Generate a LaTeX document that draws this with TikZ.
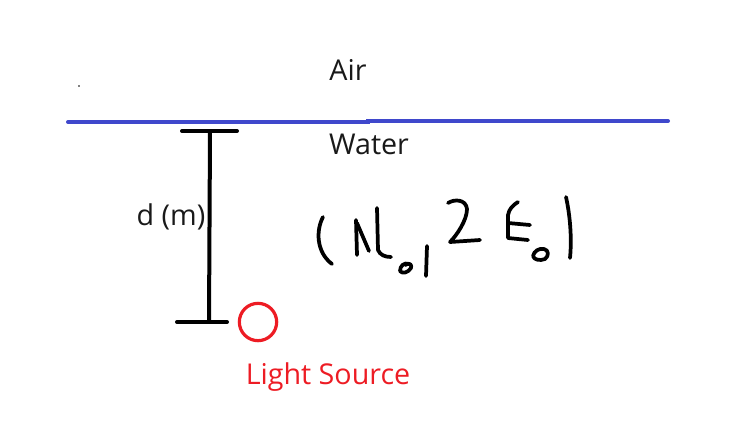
\documentclass[tikz,border=0pt]{standalone}
\usepackage{fontspec}
\setmainfont{Open Sans}
\definecolor{paintblue}{RGB}{63,72,204}
\definecolor{paintred}{RGB}{237,28,36}
\tikzset{
  lbl/.style={inner sep=0pt, font=\fontsize{21.5}{23}\selectfont, text=black!90},
  bar/.style={line width=3pt, black},
  hand/.style={line width=2.8pt, black, line cap=round, line join=round},
}
\begin{document}
\begin{tikzpicture}[x=0.75pt,y=-0.75pt]
\useasboundingbox (0,0) rectangle (745,447);
% tiny dot
\fill (79,86) circle (0.9);
% surface
\coordinate (sL) at (68,122);
\coordinate (sM1) at (368,122);
\coordinate (sM2) at (368,121);
\coordinate (sR) at (668,121);
\draw[paintblue, line width=3pt, line cap=round] (sL) -- (sM1) -- (sM2) -- (sR);
% labels
\node[lbl] (air) at (348,70) {Air};
\node[lbl] (water) at (369,144) {Water};
\node[lbl] (d) at (171,217) {d (m)};
\node[lbl, text=paintred] (ls) at (328,377) {Light Source};
% depth bar
\coordinate (top) at (210,131);
\coordinate (bot) at (209,322);
\coordinate (tl) at (182,131);
\coordinate (tr) at (237,131);
\coordinate (bl) at (177,322);
\coordinate (br) at (227,322);
\draw[bar] (top) -- (bot);
\draw[bar, line cap=round] (tl) -- (tr);
\draw[bar, line cap=round] (bl) -- (br);
% light source
\node[draw=paintred, line width=2.4pt, circle, minimum size=28pt, inner sep=0pt] (src) at (258,322) {};
% handwriting
\draw[hand] (323,217) .. controls (316,230) and (316,252) .. (332,264);
\draw[hand] (356,220) -- (357,255);
\draw[hand] (357,223) -- (369,251);
\draw[hand] (377,208) -- (378,250) .. controls (380,255) and (385,257) .. (391,257);
\draw[hand] (409,264) .. controls (404,262) and (400,266) .. (400,271) .. controls (402,274) and (408,273) .. (411,268) .. controls (412,265) and (410,262) .. (405,265);
\draw[hand] (427,246) -- (426,276);
\draw[hand] (448,203) .. controls (454,199) and (466,199) .. (467,209) .. controls (467,220) and (457,235) .. (450,242) -- (480,240);
\draw[hand] (518,202) .. controls (513,205) and (509,209) .. (508,215) -- (508,238) -- (528,240);
\draw[hand] (508,223) -- (530,225);
\draw[hand] (533,256) .. controls (534,260) and (540,261) .. (545,259) .. controls (549,256) and (549,250) .. (544,249) .. controls (539,248) and (534,251) .. (533,256);
\draw[hand] (566,197) .. controls (570,215) and (572,238) .. (570,258);
\end{tikzpicture}
\end{document}
